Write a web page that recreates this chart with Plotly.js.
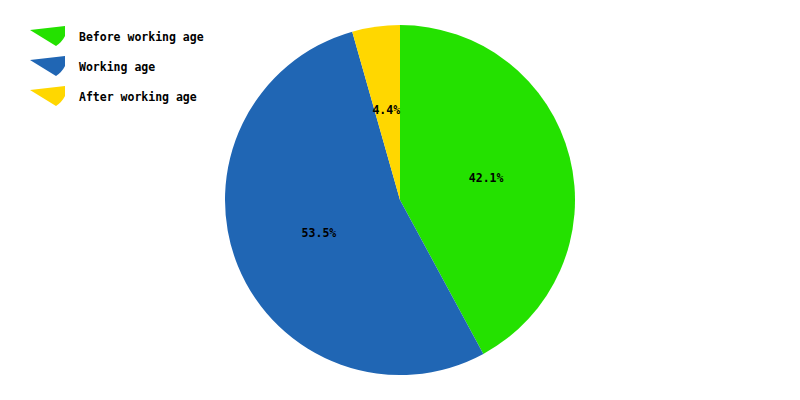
<!DOCTYPE html>
<html>
<head>
<meta charset="utf-8">
<script src="https://cdn.plot.ly/plotly-3.0.1.min.js"></script>
<style>html,body{margin:0;padding:0;background:#fff;}#chart{width:800px;height:400px;}</style>
</head>
<body>
<div id="chart"></div>
<script>
var categories = ["Before working age", "Working age", "After working age"];
var shares = [42.1, 53.5, 4.4];
var colors = ["#24e100", "#2066b4", "#ffd700"];

var FONT = "DejaVu Sans Mono, monospace";
var txtFont = {family: FONT, size: 11.5, color: "#000", weight: "bold"};

function label(v) { return v.toFixed(1) + "%"; }
// the thin slice gets its label from a transparent overlay pie (placed nearer the centre)
var isThin = shares.map(function (v) { return v < 10; });

var main = {
  type: "pie",
  labels: categories,
  values: shares,
  sort: false,
  direction: "clockwise",
  rotation: 0,
  marker: {colors: colors, line: {width: 0}},
  text: shares.map(function (v, i) { return isThin[i] ? "" : label(v); }),
  textinfo: "text",
  textposition: "inside",
  insidetextorientation: "horizontal",
  textfont: txtFont,
  hoverinfo: "none",
  showlegend: false,
  domain: {x: [0, 1], y: [25/400, 375/400]}
};

var overlay = {
  type: "pie",
  labels: categories,
  values: shares,
  sort: false,
  direction: "clockwise",
  rotation: 0,
  marker: {colors: shares.map(function () { return "rgba(0,0,0,0)"; }), line: {width: 0}},
  text: shares.map(function (v, i) { return isThin[i] ? label(v) : ""; }),
  textinfo: "text",
  textposition: "outside",
  outsidetextfont: txtFont,
  hoverinfo: "none",
  showlegend: false,
  domain: {x: [30/800, 1], y: [120/400, 284/400]}
};

// custom legend (wedge icons + labels), built from the category arrays
var shapes = [], annotations = [];
var px = function (x) { return x / 800; };
var py = function (y) { return 1 - y / 400; };
for (var i = 0; i < categories.length; i++) {
  var y0 = 26 + 30 * i;
  var path = "M" + px(30) + "," + py(y0 + 4) +
             " L" + px(65) + "," + py(y0) +
             " L" + px(65) + "," + py(y0 + 10) +
             " Q" + px(62) + "," + py(y0 + 16) + " " + px(56) + "," + py(y0 + 20) + " Z";
  shapes.push({type: "path", xref: "paper", yref: "paper", path: path,
               fillcolor: colors[i], line: {width: 0}});
  annotations.push({xref: "paper", yref: "paper", x: px(77), y: py(y0 + 11),
                    xanchor: "left", yanchor: "middle", showarrow: false,
                    text: categories[i], font: txtFont});
}

var layout = {
  width: 800, height: 400,
  margin: {l: 0, r: 0, t: 0, b: 0},
  paper_bgcolor: "#fff",
  showlegend: false,
  shapes: shapes,
  annotations: annotations
};

Plotly.newPlot("chart", [main, overlay], layout, {staticPlot: true, displayModeBar: false});
</script>
</body>
</html>
